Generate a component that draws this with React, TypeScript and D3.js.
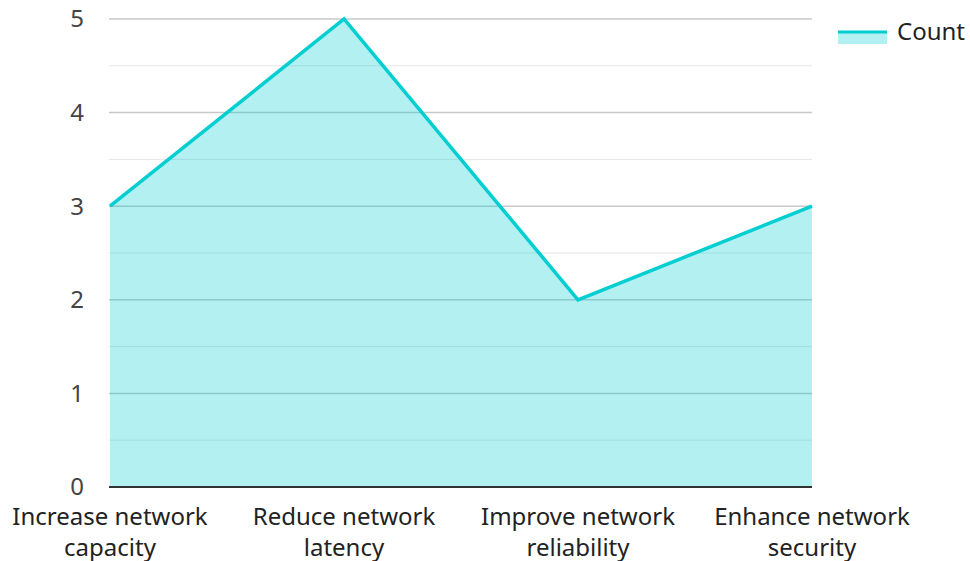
import React from 'react';
import * as d3 from 'd3';

const categories = [
  'Increase network capacity',
  'Reduce network latency',
  'Improve network reliability',
  'Enhance network security',
];
const counts = [3, 5, 2, 3];
const yTicks = [0, 1, 2, 3, 4, 5];
const seriesName = 'Count';

const App = () => {
  const width = 970;
  const height = 561;
  const margin = { top: 19, right: 158, bottom: 74, left: 110 };
  const innerW = width - margin.left - margin.right;
  const innerH = height - margin.top - margin.bottom;
  const color = '#00CED1';
  const font = '"Noto Sans", "Open Sans", sans-serif';

  const x = d3.scalePoint<string>().domain(categories).range([0, innerW]).padding(0);
  const y = d3.scaleLinear().domain([0, 5]).range([innerH, 0]);

  const pts = categories.map((c, i) => ({ c, v: counts[i] }));
  const area = d3.area<{ c: string; v: number }>()
    .x(d => x(d.c) as number)
    .y0(innerH)
    .y1(d => y(d.v));
  const line = d3.line<{ c: string; v: number }>()
    .x(d => x(d.c) as number)
    .y(d => y(d.v));

  const halfTicks = d3.range(0.5, 5, 1);

  // split labels into two lines
  const wrap = (s: string) => {
    const w = s.split(' ');
    return [w.slice(0, 2).join(' '), w.slice(2).join(' ')];
  };

  return (
    <svg width={width} height={height} style={{ position: 'absolute', left: 0, top: 0 }}>
      <g transform={`translate(${margin.left},${margin.top})`} fontFamily={font}>
        {halfTicks.map(t => (
          <line key={'h' + t} x1={-1} x2={innerW} y1={y(t)} y2={y(t)} stroke="#e6e6e6" strokeWidth={1} />
        ))}
        {yTicks.filter(t => t > 0).map(t => (
          <line key={'g' + t} x1={-1} x2={innerW} y1={y(t)} y2={y(t)} stroke="#c8c8c8" strokeWidth={1.5} />
        ))}
        <path d={area(pts) ?? ''} fill={color} fillOpacity={0.3} />
        <path d={line(pts) ?? ''} fill="none" stroke={color} strokeWidth={3.5} strokeLinejoin="miter" />
        <line x1={-1} x2={innerW} y1={innerH} y2={innerH} stroke="#333" strokeWidth={2} />
        {yTicks.map(t => (
          <text key={'t' + t} x={-26} y={y(t)} dy="0.35em" textAnchor="end" fontSize={24} fill="#444">
            {t}
          </text>
        ))}
        {categories.map(c => {
          const [a, b] = wrap(c);
          return (
            <text key={c} x={x(c)} y={innerH + 38} textAnchor="middle" fontSize={24} fill="#222">
              <tspan x={x(c)}>{a}</tspan>
              <tspan x={x(c)} dy={31}>{b}</tspan>
            </text>
          );
        })}
      </g>
      <g fontFamily={font}>
        <rect x={838} y={33} width={49} height={11} fill={color} fillOpacity={0.3} />
        <line x1={838} x2={887} y1={32} y2={32} stroke={color} strokeWidth={3} />
        <text x={897} y={32} dy="0.35em" fontSize={24} fill="#222">{seriesName}</text>
      </g>
    </svg>
  );
};

export default App;
